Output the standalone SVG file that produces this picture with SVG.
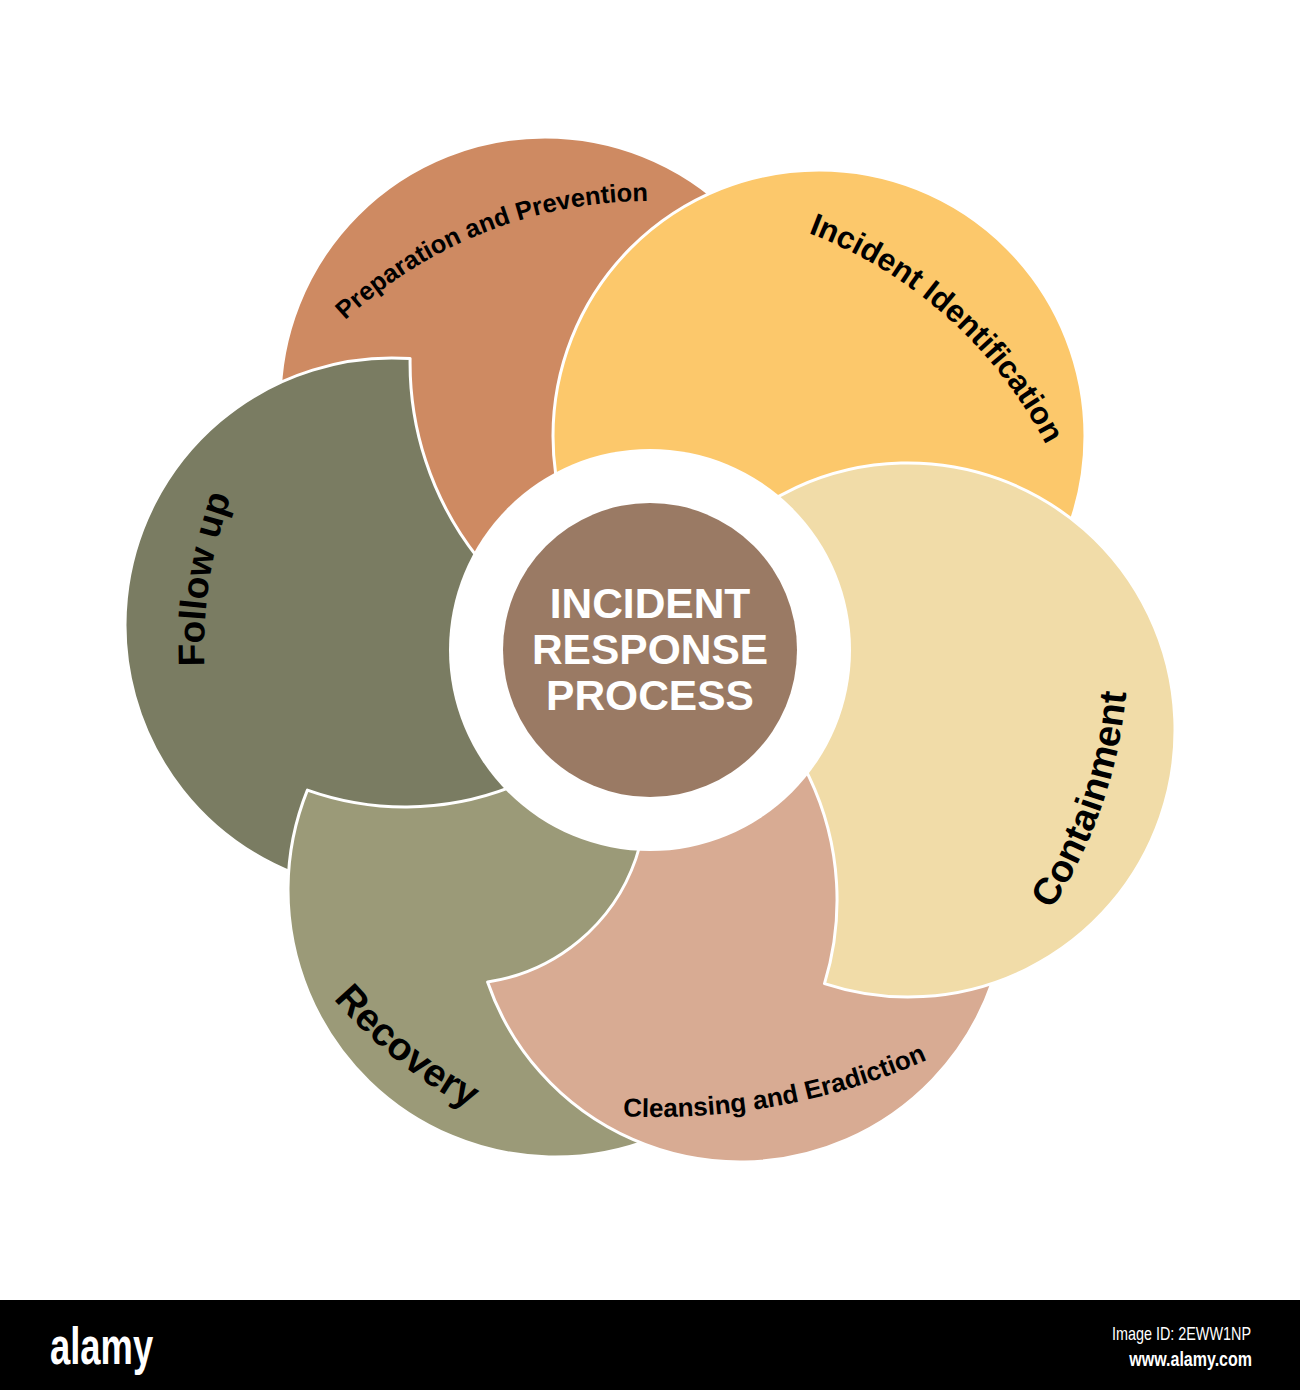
<svg xmlns="http://www.w3.org/2000/svg" width="1300" height="1390" viewBox="0 0 1300 1390">
<style>
.petal{stroke:#ffffff;stroke-width:3;stroke-linejoin:round}
.lbl{font-family:"Liberation Sans",Arial,sans-serif;font-weight:bold;fill:#000000}
.ctr{font-family:"Liberation Sans",Arial,sans-serif;font-weight:bold;fill:#ffffff;font-size:42.5px;text-anchor:middle}
.foot{font-family:"Liberation Sans",Arial,sans-serif;fill:#ffffff}
</style>
<defs>
<path id="tp-prep" d="M255.4,435.7 A449,449 0 0 1 792.5,224.2"/>
<path id="tp-ident" d="M572.6,210.8 A446,446 0 0 1 1095.2,676.5"/>
<path id="tp-contain" d="M889,1064 A478,478 0 0 0 1093.2,470.9"/>
<path id="tp-cleanse" d="M321.6,1029.3 A677,677 0 0 0 1177.4,870.6"/>
<path id="tp-recovery" d="M225.9,776.3 A484,484 0 0 0 709.4,1167.9"/>
<path id="tp-follow" d="M230.9,802.5 A446,446 0 0 1 298.5,375.4"/>
</defs>
<rect x="0" y="0" width="1300" height="1390" fill="#ffffff"/>
<g id="node-preparation">
<circle class="petal" cx="545" cy="402" r="265" fill="#CE8A62"/>
<text class="lbl" font-size="25.5"><textPath href="#tp-prep" startOffset="50%" text-anchor="middle">Preparation and Prevention</textPath></text>
</g>
<g id="node-followup">
<path class="petal" d="M410.1,358.6 A267,267 0 1 0 655.3,669.4 A314,314 0 0 1 410.1,358.6 Z" fill="#7A7C62"/>
<text class="lbl" font-size="37"><textPath href="#tp-follow" startOffset="50%" text-anchor="middle">Follow up</textPath></text>
</g>
<g id="node-recovery">
<path class="petal" d="M307.4,790.1 A267,267 0 1 0 665,646.7 A291,291 0 0 1 307.4,790.1 Z" fill="#9B9A78"/>
<text class="lbl" font-size="39"><textPath href="#tp-recovery" startOffset="50%" text-anchor="middle">Recovery</textPath></text>
</g>
<g id="node-cleansing">
<path class="petal" d="M487.6,982 A267,267 0 1 0 595.4,670.5 A186,186 0 0 1 487.6,982 Z" fill="#D8AB93"/>
<text class="lbl" font-size="26"><textPath href="#tp-cleanse" startOffset="50%" text-anchor="middle">Cleansing and Eradiction</textPath></text>
</g>
<g id="node-identification">
<circle class="petal" cx="819" cy="436" r="266" fill="#FCC86B"/>
<text class="lbl" font-size="31.5"><textPath href="#tp-ident" startOffset="50%" text-anchor="middle">Incident Identification</textPath></text>
</g>
<g id="node-containment">
<path class="petal" d="M824.5,983.6 A267,267 0 1 0 658.3,635.5 A285,285 0 0 1 824.5,983.6 Z" fill="#F1DCA8"/>
<text class="lbl" font-size="38"><textPath href="#tp-contain" startOffset="50%" text-anchor="middle">Containment</textPath></text>
</g>
<g id="connectors"></g>
<g id="node-center">
<circle cx="650" cy="650" r="201" fill="#ffffff"/>
<circle cx="650" cy="650" r="147" fill="#9A7A64"/>
<text class="ctr" x="650" y="618">INCIDENT</text>
<text class="ctr" x="650" y="664">RESPONSE</text>
<text class="ctr" x="650" y="710">PROCESS</text>
</g>
<g id="footer">
<rect x="0" y="1300" width="1300" height="90" fill="#000000"/>
<text class="foot" font-weight="bold" font-size="52" transform="translate(50,1364) scale(0.7,1)">alamy</text>
<text class="foot" font-size="18" text-anchor="end" transform="translate(1251,1340) scale(0.8,1)">Image ID: 2EWW1NP</text>
<text class="foot" font-size="20" font-weight="bold" text-anchor="end" transform="translate(1252,1366) scale(0.8,1)">www.alamy.com</text>
</g>
</svg>
